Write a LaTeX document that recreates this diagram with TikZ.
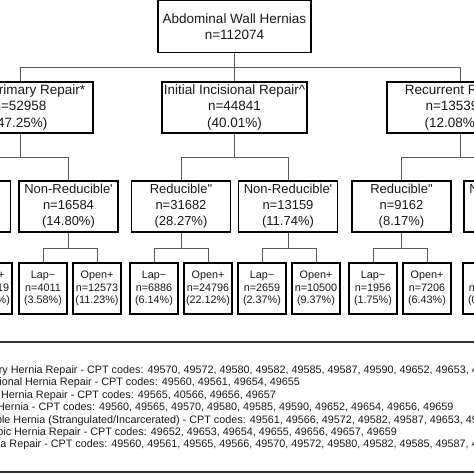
\documentclass[tikz,border=0pt]{standalone}
\usepackage{fontspec}
\setmainfont{Liberation Sans}
\begin{document}
\begin{tikzpicture}[x=1pt,y=-1pt,
  box/.style={draw=black, line width=1.1pt, fill=white, inner sep=0pt, align=center, text=black!90},
  lvA/.style={box, minimum height=51pt, font=\fontsize{13.5}{16.5}\selectfont},
  lvB/.style={box, minimum width=99pt, minimum height=51pt, font=\fontsize{13}{16}\selectfont},
  lvC/.style={box, minimum width=48pt, minimum height=51pt, font=\fontsize{10.8}{12.5}\selectfont},
  conn/.style={draw=black!65, line width=0.9pt},
  foot/.style={anchor=base west, inner sep=0pt, text=black!90, font=\fontsize{10.8}{12}\selectfont}
]
\useasboundingbox (0,0) rectangle (474,474);
\clip (0,0) rectangle (474,474);
\fill[white] (0,0) rectangle (474,474);

% level 1
\node[lvA, minimum width=153pt, minimum height=52pt] (top) at (234.5,26.5) {Abdominal Wall Hernias\\n=112074};
% level 2
\node[lvA, minimum width=146pt] (pri) at (20,107.5) {Initial Primary Repair*\\n=52958\\(47.25\%)};
\node[lvA, minimum width=145pt] (inc) at (234.5,107.5) {Initial Incisional Repair\textasciicircum\\n=44841\\(40.01\%)};
\node[lvA, minimum width=130pt] (rec) at (452,107.5) {\hspace*{16pt}Recurrent Repair\#\\n=13539\\(12.08\%)};
% level 3
\node[lvB] (priR) at (-39,206.5) {Reducible\textquotedbl\\n=36374\\(32.45\%)};
\node[lvB] (priN) at (68.5,206.5) {Non-Reducible\textquotesingle\\n=16584\\(14.80\%)};
\node[lvB] (incR) at (181,206.5) {Reducible\textquotedbl\\n=31682\\(28.27\%)};
\node[lvB] (incN) at (288,206.5) {Non-Reducible\textquotesingle\\n=13159\\(11.74\%)};
\node[lvB] (recR) at (401.5,206.5) {Reducible\textquotedbl\\n=9162\\(8.17\%)};
\node[lvB] (recN) at (513.5,206.5) {Non-Reducible\textquotesingle\\n=4377\\(3.91\%)};
% level 4
\node[lvC] (priRL) at (-66,288.5) {Lap\textasciitilde\\n=6955\\(6.21\%)};
\node[lvC] (priRO) at (-12,288.5) {Open+\\n=29419\\(26.25\%)};
\node[lvC] (priNL) at (43,288.5) {Lap\textasciitilde\\n=4011\\(3.58\%)};
\node[lvC] (priNO) at (97,288.5) {Open+\\n=12573\\(11.23\%)};
\node[lvC] (incRL) at (154,288.5) {Lap\textasciitilde\\n=6886\\(6.14\%)};
\node[lvC] (incRO) at (208,288.5) {Open+\\n=24796\\(22.12\%)};
\node[lvC] (incNL) at (262,288.5) {Lap\textasciitilde\\n=2659\\(2.37\%)};
\node[lvC] (incNO) at (316,288.5) {Open+\\n=10500\\(9.37\%)};
\node[lvC] (recRL) at (373,288.5) {Lap\textasciitilde\\n=1956\\(1.75\%)};
\node[lvC] (recRO) at (427,288.5) {Open+\\n=7206\\(6.43\%)};
\node[lvC] (recNL) at (487,288.5) {Lap\textasciitilde\\n=1021\\(0.91\%)};
\node[lvC] (recNO) at (541,288.5) {Open+\\n=3356\\(2.99\%)};

% bus levels
\coordinate (y1) at (0,67);
\coordinate (y2) at (0,157);
\coordinate (y3) at (0,248);
\coordinate (recT) at ([xshift=8pt]rec.north);
\coordinate (recB) at ([xshift=8pt]rec.south);

% connectors level 1 -> 2
\draw[conn] (top.south) -- (inc.north);
\draw[conn] (pri.north) -- (pri.north |- y1) -- (recT |- y1) -- (recT);
% level 2 -> 3
\foreach \p/\a/\b in {pri/priR/priN, inc/incR/incN}{
  \draw[conn] (\p.south) -- (\p.south |- y2);
  \draw[conn] (\a.north) -- (\a.north |- y2) -- (\b.north |- y2) -- (\b.north);
}
\draw[conn] (recB) -- (recB |- y2);
\draw[conn] (recR.north) -- (recR.north |- y2) -- (recN.north |- y2) -- (recN.north);
% level 3 -> 4
\foreach \p in {priR, priN, incR, incN, recR, recN}{
  \draw[conn] (\p.south) -- (\p.south |- y3);
  \draw[conn] (\p L.north) -- (\p L.north |- y3) -- (\p O.north |- y3) -- (\p O.north);
}

% footnote box
\draw[draw=black!80, line width=2pt] (-10,342) rectangle (484,472);
\node[foot] (f1) at (10.7,373.5) {\llap{Primary }Hernia Repair - CPT codes: 49570, 49572, 49580, 49582, 49585, 49587, 49590, 49652, 49653, 49656, 49657};
\node[foot] (f2) at (25,385.9) {\llap{Initial Incisional }Hernia Repair - CPT codes: 49560, 49561, 49654, 49655};
\node[foot] (f3) at (1,398.3) {\llap{Recurrent }Hernia Repair - CPT codes: 49565, 40566, 49656, 49657};
\node[foot] (f4) at (-3,410.7) {\llap{Reducible }Hernia - CPT codes: 49560, 49565, 49570, 49580, 49585, 49590, 49652, 49654, 49656, 49659};
\node[foot] (f5) at (13.3,423.1) {\llap{Non-Reducible }Hernia (Strangulated/Incarcerated) - CPT codes: 49561, 49566, 49572, 49582, 49587, 49653, 49655, 49657};
\node[foot] (f6) at (14,435.5) {\llap{Laparoscopic }Hernia Repair - CPT codes: 49652, 49653, 49654, 49655, 49656, 49657, 49659};
\node[foot] (f7) at (9.3,447.9) {\llap{Open Hernia }Repair - CPT codes: 49560, 49561, 49565, 49566, 49570, 49572, 49580, 49582, 49585, 49587, 49590};
\end{tikzpicture}
\end{document}
